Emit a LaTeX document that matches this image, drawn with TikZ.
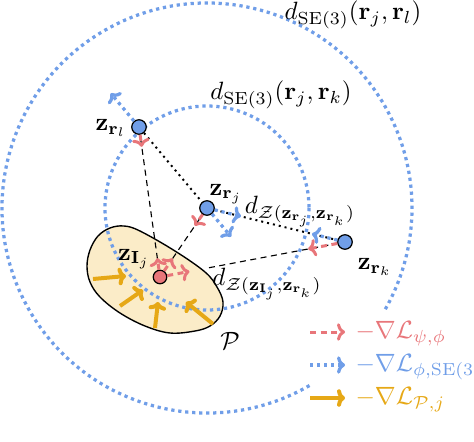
\documentclass[tikz,border=0pt]{standalone}
\usetikzlibrary{arrows.meta,calc,backgrounds}
\definecolor{myred}{RGB}{232,118,122}
\definecolor{myblue}{RGB}{112,158,232}
\definecolor{myorange}{RGB}{230,168,22}
\definecolor{capfill}{RGB}{251,236,200}
\begin{document}
\begin{tikzpicture}[x=0.4pt,y=-0.4pt,
  bnode/.style={circle,draw=black,line width=0.5pt,fill=myblue,minimum size=5.8pt,inner sep=0pt},
  rnode/.style={circle,draw=black,line width=0.5pt,fill=myred,minimum size=5.4pt,inner sep=0pt},
  bluedot/.style={myblue,line width=1.3pt,dash pattern=on 1.3pt off 1.5pt},
  reddash/.style={myred,line width=1.2pt,dash pattern=on 2.4pt off 1.8pt},
  yarrow/.style={myorange,line width=1.6pt},
  tipa/.style={-{To[length=3.2pt,width=7pt]}},
  blackdash/.style={black,line width=0.45pt,dash pattern=on 2.4pt off 1.8pt},
  blackdot/.style={black,line width=0.8pt,dash pattern=on 0.8pt off 1.6pt},
  lab/.style={inner sep=0pt}]
\useasboundingbox (0,0) rectangle (474,441);

% points
\node[bnode] (zrl) at (139,127) {};
\node[bnode] (zrj) at (207,208) {};
\node[bnode] (zrk) at (345,242) {};
\node[rnode] (zIj) at (160,277) {};

\begin{pgfonlayer}{background}
  % region P
  \draw[line width=0.55pt,fill=capfill] plot[smooth cycle,tension=0.6] coordinates {
    (90,250) (98,236) (110,228) (124,226) (140,231) (175,251) (205,272)
    (217,287) (223,302) (220,316) (210,326) (195,331) (170,333)
    (145,326) (120,313) (100,297) (90,282) (87,266)};
  % circles
  \draw[bluedot] (zrj) circle[radius=102];
  \draw[bluedot] (zrj) ++(60:205) arc[start angle=60,end angle=390,radius=205];
\end{pgfonlayer}

% yellow arrows
\coordinate (ya1) at (93,279);  \coordinate (yb1) at (126,276);
\coordinate (ya2) at (120,306); \coordinate (yb2) at (143,290);
\coordinate (ya3) at (155,328); \coordinate (yb3) at (158,302);
\coordinate (ya4) at (213,324); \coordinate (yb4) at (186,302);
\draw[yarrow,tipa] (ya1) -- (yb1);
\draw[yarrow,tipa] (ya2) -- (yb2);
\draw[yarrow,tipa] (ya3) -- (yb3);
\draw[yarrow,tipa] (ya4) -- (yb4);

% black connectors
\draw[blackdot] (zrl) -- (zrj);
\draw[blackdot] (zrj) -- (zrk);
\draw[blackdash,shorten <=4.4pt] (zIj) -- (zrl);
\draw[blackdash,shorten <=6pt] (zIj) -- (zrj);
\draw[blackdash,shorten <=17pt] (zIj) -- (zrk);

% blue gradient arrows
\coordinate (bl) at ($(zrl)!-17.6pt!(zrj)$);
\coordinate (bj1) at ($(zrj)!14pt!(zrk)$);
\coordinate (bj2) at ($(zrj)!-15pt!(zrl)$);
\coordinate (bk) at ($(zrk)!13.6pt!(zrj)$);
\draw[bluedot,tipa] (zrl) -- (bl);
\draw[bluedot,tipa] (zrj) -- (bj1);
\draw[bluedot,tipa] (zrj) -- (bj2);
\draw[bluedot,tipa] (zrk) -- (bk);

% red gradient arrows
\coordinate (rl) at ($(zrl)!8pt!(zIj)$);
\coordinate (rj) at ($(zrj)!8.6pt!(zIj)$);
\coordinate (rk) at ($(zrk)!15pt!(zIj)$);
\coordinate (ri1) at ($(zIj)!7.6pt!(zrl)$);
\coordinate (ri2) at ($(zIj)!9pt!(zrj)$);
\coordinate (ri3) at ($(zIj)!12pt!(zrk)$);
\draw[reddash,tipa] (zrl) -- (rl);
\draw[reddash,tipa] (zrj) -- (rj);
\draw[reddash,tipa] (zrk) -- (rk);
\draw[reddash,tipa] (zIj) -- (ri1);
\draw[reddash,tipa] (zIj) -- (ri2);
\draw[reddash,tipa] (zIj) -- (ri3);

% labels
\node[lab] (Lrl) at (111,128) {$\mathbf{z}_{\mathbf{r}_l}$};
\node[lab] (Lrj) at (226,194) {$\mathbf{z}_{\mathbf{r}_j}$};
\node[lab] (Lrk) at (375,267) {$\mathbf{z}_{\mathbf{r}_k}$};
\node[lab] (LIj) at (134,259) {$\mathbf{z}_{\mathbf{I}_j}$};
\node[lab] (Ldjk) at (300,212) {$d_{\mathcal{Z}(\mathbf{z}_{\mathbf{r}_j},\mathbf{z}_{\mathbf{r}_k})}$};
\node[lab] (Ldik) at (267,284) {$d_{\mathcal{Z}(\mathbf{z}_{\mathbf{I}_j},\mathbf{z}_{\mathbf{r}_k})}$};
\node[lab] (Lsel) at (353,15) {$d_{\mathrm{SE}(3)}(\mathbf{r}_j,\mathbf{r}_l)$};
\node[lab] (Lsek) at (281,95) {$d_{\mathrm{SE}(3)}(\mathbf{r}_j,\mathbf{r}_k)$};
\node[lab] (LP) at (230,341) {$\mathcal{P}$};

% legend
\coordinate (g1a) at (310,332); \coordinate (g1b) at (345,332);
\coordinate (g2a) at (310,365); \coordinate (g2b) at (345,365);
\coordinate (g3a) at (310,398); \coordinate (g3b) at (345,398);
\draw[reddash,tipa] (g1a) -- (g1b);
\draw[bluedot,tipa] (g2a) -- (g2b);
\draw[yarrow,tipa] (g3a) -- (g3b);
\node[lab,anchor=west,text=myred] (t1) at (355,334) {$-\nabla\mathcal{L}_{\psi,\phi}$};
\node[lab,anchor=west,text=myblue] (t2) at (355,367) {$-\nabla\mathcal{L}_{\phi,\mathrm{SE}(3)}$};
\node[lab,anchor=west,text=myorange] (t3) at (355,400) {$-\nabla\mathcal{L}_{\mathcal{P},j}$};
\end{tikzpicture}
\end{document}
